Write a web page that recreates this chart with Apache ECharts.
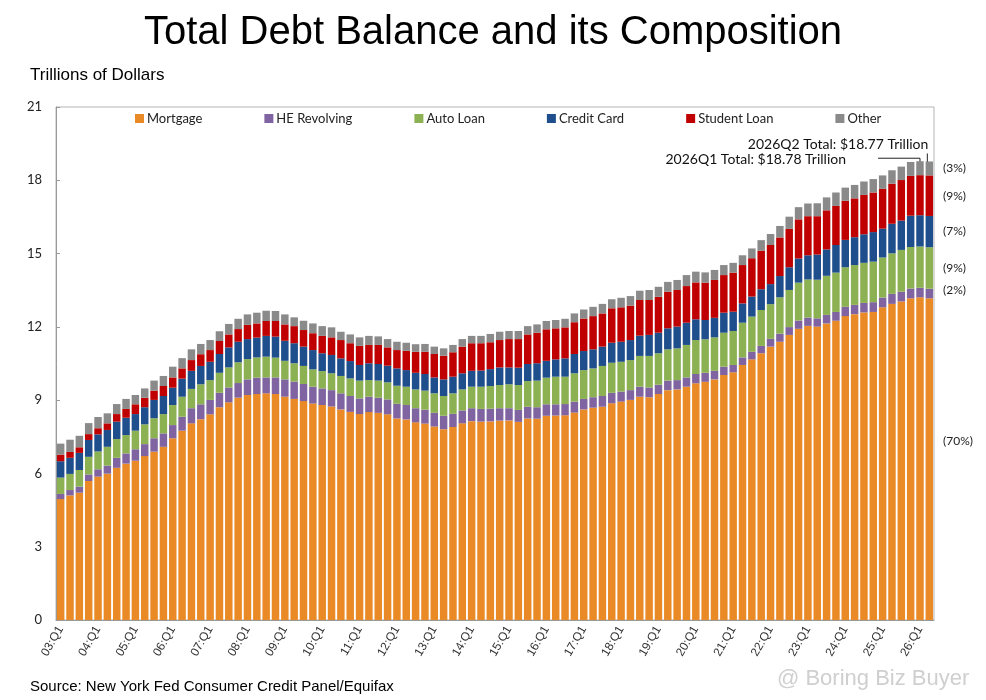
<!DOCTYPE html>
<html><head><meta charset="utf-8">
<script src="https://cdn.jsdelivr.net/npm/echarts@6/dist/echarts.min.js"></script>
<style>html,body{margin:0;padding:0;background:#fff}#c{width:986px;height:700px}</style>
</head><body><div id="c"></div>
<script>
// Tick-label pieces (2003Q1 .. 2026Q2)
const years = ['03','04','05','06','07','08','09','10','11','12','13','14','15','16','17','18','19','20','21','22','23','24','25','26'];
const quarters = ['Q1','Q2','Q3','Q4'];
const lastYearQuarters = 2;

// Series values, trillions of dollars
const mortgage = [
4.95,5.10,5.21,5.69,5.87,5.99,6.23,6.40,6.52,6.71,6.89,7.09,7.44,7.75,8.05,8.22,8.42,8.71,8.91,9.10,9.21,9.25,9.28,9.25,
9.14,9.05,8.96,8.86,8.80,8.74,8.62,8.52,8.43,8.51,8.48,8.42,8.25,8.21,8.09,8.04,7.92,7.81,7.90,8.05,8.14,8.12,8.13,8.16,
8.17,8.11,8.25,8.24,8.36,8.37,8.38,8.49,8.62,8.69,8.73,8.87,8.94,9.01,9.14,9.12,9.25,9.41,9.44,9.55,9.69,9.75,9.85,10.03,
10.14,10.44,10.67,10.92,11.19,11.39,11.67,11.92,12.04,12.01,12.14,12.25,12.44,12.52,12.59,12.61,12.80,12.94,13.04,13.17,13.21,13.17];
const heRevolving = [
0.21,0.22,0.25,0.27,0.30,0.33,0.41,0.42,0.47,0.49,0.55,0.55,0.54,0.57,0.62,0.61,0.59,0.59,0.61,0.60,0.64,0.67,0.65,0.68,
0.71,0.71,0.70,0.69,0.68,0.67,0.66,0.65,0.64,0.63,0.62,0.61,0.60,0.59,0.58,0.57,0.56,0.55,0.54,0.53,0.53,0.52,0.52,0.51,
0.50,0.49,0.48,0.47,0.47,0.46,0.46,0.45,0.43,0.43,0.44,0.43,0.41,0.40,0.41,0.40,0.38,0.39,0.38,0.38,0.38,0.37,0.35,0.34,
0.30,0.31,0.31,0.30,0.32,0.33,0.32,0.34,0.34,0.34,0.35,0.36,0.38,0.38,0.39,0.40,0.40,0.41,0.40,0.40,0.39,0.39];
const autoLoan = [
0.67,0.66,0.68,0.72,0.73,0.77,0.77,0.75,0.76,0.81,0.82,0.79,0.82,0.82,0.79,0.82,0.81,0.82,0.82,0.85,0.83,0.83,0.85,0.81,
0.76,0.75,0.74,0.71,0.71,0.69,0.71,0.72,0.73,0.68,0.70,0.70,0.74,0.75,0.77,0.78,0.80,0.81,0.84,0.86,0.88,0.91,0.93,0.95,
0.98,1.02,1.05,1.09,1.09,1.13,1.12,1.16,1.18,1.18,1.23,1.23,1.22,1.23,1.26,1.29,1.29,1.28,1.30,1.33,1.39,1.37,1.37,1.39,
1.39,1.42,1.44,1.47,1.42,1.49,1.52,1.55,1.56,1.58,1.60,1.61,1.62,1.63,1.64,1.66,1.64,1.66,1.71,1.70,1.69,1.70];
const creditCard = [
0.67,0.66,0.70,0.69,0.70,0.69,0.71,0.71,0.68,0.70,0.75,0.74,0.71,0.74,0.74,0.75,0.75,0.77,0.82,0.84,0.82,0.81,0.85,0.86,
0.82,0.82,0.79,0.79,0.73,0.75,0.72,0.71,0.64,0.69,0.68,0.68,0.71,0.68,0.68,0.68,0.65,0.68,0.68,0.66,0.65,0.66,0.69,0.72,
0.69,0.71,0.70,0.71,0.69,0.71,0.75,0.79,0.78,0.78,0.79,0.82,0.82,0.82,0.83,0.86,0.84,0.86,0.89,0.91,0.85,0.79,0.80,0.82,
0.79,0.79,0.82,0.85,0.82,0.87,0.93,0.99,0.99,1.03,1.08,1.13,1.12,1.14,1.17,1.21,1.18,1.21,1.20,1.28,1.28,1.28];
const studentLoan = [
0.27,0.24,0.23,0.24,0.25,0.27,0.31,0.36,0.40,0.39,0.38,0.41,0.42,0.42,0.44,0.48,0.48,0.53,0.53,0.52,0.58,0.58,0.61,0.64,
0.67,0.70,0.68,0.69,0.71,0.72,0.75,0.73,0.78,0.75,0.78,0.75,0.75,0.79,0.86,0.91,0.96,0.97,1.00,1.09,1.13,1.12,1.10,1.12,
1.16,1.17,1.21,1.25,1.29,1.27,1.27,1.30,1.33,1.36,1.36,1.41,1.41,1.41,1.46,1.43,1.47,1.50,1.50,1.50,1.51,1.53,1.55,1.54,
1.60,1.57,1.57,1.58,1.60,1.58,1.57,1.60,1.60,1.57,1.60,1.60,1.60,1.59,1.61,1.62,1.63,1.64,1.66,1.63,1.64,1.66];
const other = [
0.45,0.50,0.47,0.45,0.46,0.41,0.41,0.41,0.38,0.38,0.41,0.41,0.44,0.42,0.44,0.42,0.41,0.40,0.43,0.42,0.43,0.44,0.42,0.41,
0.41,0.36,0.38,0.40,0.40,0.41,0.34,0.36,0.35,0.37,0.35,0.34,0.34,0.33,0.31,0.32,0.30,0.30,0.30,0.31,0.30,0.30,0.34,0.34,
0.33,0.33,0.34,0.34,0.34,0.34,0.35,0.36,0.37,0.38,0.39,0.37,0.39,0.39,0.38,0.41,0.41,0.40,0.41,0.45,0.44,0.42,0.41,0.41,
0.40,0.40,0.40,0.43,0.45,0.47,0.50,0.50,0.52,0.53,0.53,0.55,0.54,0.55,0.55,0.55,0.55,0.55,0.55,0.57,0.57,0.57];

const seriesNames = ['Mortgage','HE Revolving','Auto Loan','Credit Card','Student Loan','Other'];
const seriesColors = ['#EA8A26','#8064A2','#8CB153','#1F4E8C','#C00000','#8A8A8A'];
const shareLabels = ['(70%)','(2%)','(9%)','(7%)','(9%)','(3%)'];
const annotations = [
  {index: 93, text: '2026Q2 Total: $18.77 Trillion', total: 18.77},
  {index: 92, text: '2026Q1 Total: $18.78 Trillion', total: 18.78}
];

const categories = [];
years.forEach((y, yi) => {
  const nq = yi === years.length - 1 ? lastYearQuarters : 4;
  for (let q = 0; q < nq; q++) categories.push(y + ':' + quarters[q]);
});

const allSeries = [mortgage, heRevolving, autoLoan, creditCard, studentLoan, other];
const chart = echarts.init(document.getElementById('c'), null, {renderer: 'canvas'});
const calibri = 'Lato, "Open Sans", sans-serif';
const arial = '"Liberation Sans", Arial, sans-serif';

chart.setOption({
  animation: false,
  backgroundColor: '#fff',
  title: [
    {text: 'Total Debt Balance and its Composition', left: 'center', top: 8,
     textStyle: {fontFamily: arial, fontSize: 40, fontWeight: 'normal', color: '#000'}},
    {text: 'Trillions of Dollars', left: 25, top: 62,
     textStyle: {fontFamily: arial, fontSize: 17, fontWeight: 'normal', color: '#000'}},
    {text: 'Source: New York Fed Consumer Credit Panel/Equifax', left: 25, top: 674,
     textStyle: {fontFamily: arial, fontSize: 15, fontWeight: 'normal', color: '#000'}},
    {text: '@ Boring Biz Buyer', left: 772, top: 663,
     textStyle: {fontFamily: arial, fontSize: 22, fontWeight: 'normal', color: '#cfcfcf'}}
  ],
  legend: {
    top: 107, left: 130, itemWidth: 9, itemHeight: 9, itemGap: 62,
    icon: 'rect',
    textStyle: {fontFamily: calibri, fontSize: 13, color: '#222', padding: [0,0,0,-2]},
    data: seriesNames
  },
  grid: {left: 56, right: 52, top: 107, bottom: 80, show: true, borderColor: '#b5b5b5', borderWidth: 1},
  xAxis: {
    type: 'category', data: categories,
    axisLine: {lineStyle: {color: '#999'}},
    axisTick: {interval: 0, length: 4, lineStyle: {color: '#999'}},
    axisLabel: {interval: 3, rotate: 60, fontFamily: arial, fontSize: 12, color: '#333', margin: 7}
  },
  yAxis: {
    type: 'value', min: 0, max: 21, interval: 3,
    axisLine: {show: true, lineStyle: {color: '#999'}},
    axisTick: {show: true, inside: true, length: 4, lineStyle: {color: '#999'}},
    splitLine: {show: false},
    axisLabel: {fontFamily: calibri, fontSize: 13, color: '#222', margin: 14}
  },
  series: allSeries.map((arr, s) => ({
    name: seriesNames[s], type: 'bar', stack: 'total', barCategoryGap: '20%',
    itemStyle: {color: seriesColors[s]},
    data: arr.map((v, i) => i === arr.length - 1 ? {
      value: v,
      label: {show: true, position: 'right', distance: 10, formatter: shareLabels[s],
              fontFamily: calibri, fontSize: 12, color: '#222',
              offset: s === 0 ? [0, -18] : (s === 1 ? [0, -3] : [0, 0])}
    } : v)
  }))
});

// annotations anchored to bar tops
const g = [];
const p2 = chart.convertToPixel({gridIndex: 0}, [annotations[0].index, annotations[0].total]);
const p1 = chart.convertToPixel({gridIndex: 0}, [annotations[1].index, annotations[1].total]);
g.push({type: 'text', x: p2[0] - 1, y: p2[1] - 17,
  style: {text: annotations[0].text, fontFamily: calibri, fontSize: 14, fill: '#111', align: 'right', verticalAlign: 'middle'}});
g.push({type: 'text', x: p1[0] - 74, y: p1[1] - 2,
  style: {text: annotations[1].text, fontFamily: calibri, fontSize: 14, fill: '#111', align: 'right', verticalAlign: 'middle'}});
g.push({type: 'polyline', shape: {points: [[p1[0] - 42, p1[1] - 3], [p1[0], p1[1] - 3], [p1[0], p1[1] + 11]]},
  style: {stroke: '#222', lineWidth: 1, fill: null}});
g.push({type: 'line', shape: {x1: p2[0] - 2, y1: p2[1] - 8, x2: p2[0] - 2, y2: p2[1] + 7},
  style: {stroke: '#222', lineWidth: 1}});
chart.setOption({graphic: g});
</script></body></html>
